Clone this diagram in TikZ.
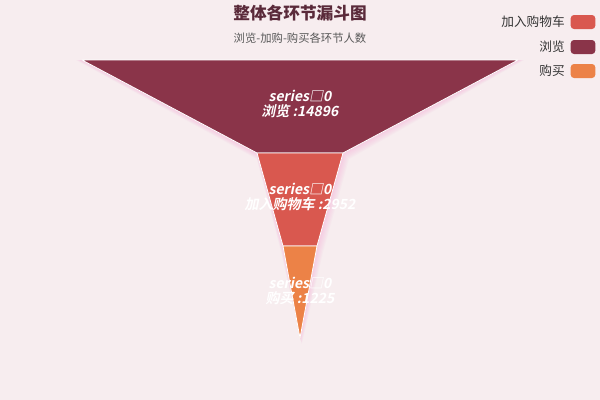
\documentclass[tikz,border=0pt]{standalone}
\usepackage{fontspec}
\setmainfont{Noto Sans CJK SC}
\newfontfamily\cjkslant[FakeSlant=0.2]{Noto Sans CJK SC Bold}
\begin{document}
\begin{tikzpicture}[x=0.75pt,y=-0.75pt,
  seg/.style={draw=white,line width=0.6pt,line join=round},
  lab/.style={text=white,font=\fontsize{10.5}{11}\cjkslant,align=center,inner sep=0pt},
  leg/.style={font=\fontsize{9.5}{10}\selectfont,text=black!80,anchor=east,inner sep=0pt},
  sw/.style={rounded corners=2.5pt,minimum width=18.5pt,minimum height=10.5pt,inner sep=0pt}]
\definecolor{bg}{HTML}{F7EDEF}
\definecolor{c1}{HTML}{8A3449}
\definecolor{c2}{HTML}{D9584F}
\definecolor{c3}{HTML}{EC8247}
\definecolor{tt}{HTML}{5A2A3A}
\fill[bg] (0,0) rectangle (600,400);
\node[font=\fontsize{12.5}{13}\selectfont\bfseries,text=tt] (title) at (300,13) {整体各环节漏斗图};
\node[font=\fontsize{8.5}{9}\selectfont,text=black!65] (sub) at (300,38) {浏览-加购-购买各环节人数};
\foreach \i in {1,...,6}{
 \fill[magenta!50,opacity=0.05] (82-\i,60) -- (518+\i,60) -- (343+\i,153+\i) -- (317+\i,246+\i) -- (300+\i*0.3,338+\i) -- (283-\i*0.3,246+\i) -- (257,153+\i) -- cycle;}
\filldraw[seg,fill=c1] (82,60) -- (518,60) -- (343,153) -- (257,153) -- cycle;
\filldraw[seg,fill=c2] (257,153) -- (343,153) -- (317,246) -- (283,246) -- cycle;
\filldraw[seg,fill=c3] (283,246) -- (317,246) -- (300,338) -- cycle;
\node[lab] (l1) at (300,104) {series□0\\浏览 :14896};
\node[lab] (l2) at (300,197) {series□0\\加入购物车 :2952};
\node[lab] (l3) at (300,291) {series□0\\购买 :1225};
\node[sw,fill=c2] (s1) at (583,22) {};
\node[sw,fill=c1] (s2) at (583,47) {};
\node[sw,fill=c3] (s3) at (583,71) {};
\node[leg] (t1) at (565,22) {加入购物车};
\node[leg] (t2) at (565,47) {浏览};
\node[leg] (t3) at (565,71) {购买};
\end{tikzpicture}
\end{document}
